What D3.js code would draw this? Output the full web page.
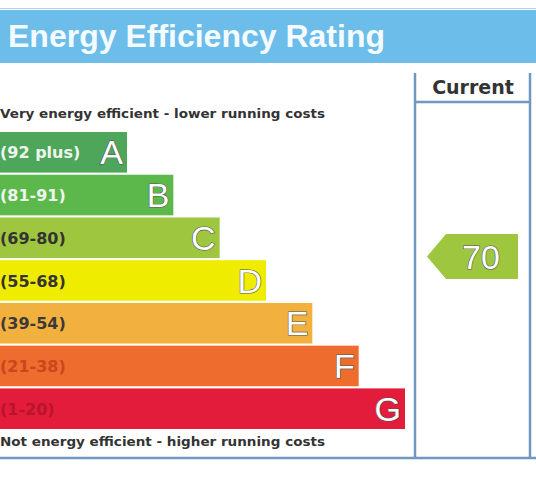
<!DOCTYPE html>
<html><head><meta charset="utf-8">
<script src="https://cdn.jsdelivr.net/npm/d3@7"></script>
<style>body{margin:0;background:#fff}svg{display:block}</style>
</head><body>
<script>
const bands = ["A","B","C","D","E","F","G"];
const ranges = ["(92 plus)","(81-91)","(69-80)","(55-68)","(39-54)","(21-38)","(1-20)"];
const bandMin = [92,81,69,55,39,21,1];
const bandColors = ["#4ea65a","#5db84b","#9ec73f","#f0ec00","#f2b13f","#ee6c2d","#e31c3b"];
const rangeColors = ["#eef5ee","#eef5ee","#333","#333","#3a3a3a","#c9471c","#b8142c"];
const currentValue = 70;
const title = "Energy Efficiency Rating";
const topNote = "Very energy efficient - lower running costs";
const bottomNote = "Not energy efficient - higher running costs";
const columnLabel = "Current";

const W = 536, H = 480;
const svg = d3.select("body").append("svg").attr("width", W).attr("height", H);
const font = "'Liberation Sans', Arial, sans-serif";
const font2 = "'DejaVu Sans', Verdana, sans-serif";

// title bar
svg.append("rect").attr("x",0).attr("y",10).attr("width",W).attr("height",53).attr("fill","#6cbde9");
svg.append("line").attr("x1",0).attr("x2",W).attr("y1",8.5).attr("y2",8.5).attr("stroke","#a9d6ef").attr("stroke-width",1);
svg.append("text").attr("x",8).attr("y",47).attr("font-family",font).attr("font-weight","bold")
  .attr("font-size",32).attr("fill","#f4fbff").text(title);

// frame lines
const frame = "#6f99bf";
svg.append("line").attr("x1",415).attr("x2",415).attr("y1",73).attr("y2",458).attr("stroke",frame).attr("stroke-width",2.5);
svg.append("line").attr("x1",530).attr("x2",530).attr("y1",73).attr("y2",458).attr("stroke",frame).attr("stroke-width",2.5);
svg.append("line").attr("x1",415).attr("x2",530).attr("y1",102).attr("y2",102).attr("stroke",frame).attr("stroke-width",2.5);
svg.append("line").attr("x1",0).attr("x2",W).attr("y1",458).attr("y2",458).attr("stroke",frame).attr("stroke-width",2.5);
svg.append("text").attr("x",473).attr("y",94).attr("text-anchor","middle").attr("font-family",font2)
  .attr("font-weight","bold").attr("font-size",19).attr("fill","#333").text(columnLabel);

// notes
svg.append("text").attr("x",0).attr("y",118).attr("font-family",font2).attr("font-weight","bold")
  .attr("font-size",12.5).attr("fill","#333").attr("textLength",325).attr("lengthAdjust","spacingAndGlyphs").text(topNote);
svg.append("text").attr("x",0).attr("y",446).attr("font-family",font2).attr("font-weight","bold")
  .attr("font-size",12.5).attr("fill","#333").attr("textLength",325).attr("lengthAdjust","spacingAndGlyphs").text(bottomNote);

// scales
const y = d3.scaleBand().domain(bands).range([132, 429]).paddingInner(0.05);
const x = d3.scaleLinear().domain([0, bands.length-1]).range([127, 405]);

const rows = svg.selectAll("g.row").data(bands).join("g").attr("class","row");
rows.append("rect").attr("x",0).attr("y",d=>y(d)).attr("height",y.bandwidth())
  .attr("width",(d,i)=>x(i)).attr("fill",(d,i)=>bandColors[i]);
rows.append("text").attr("x",0).attr("y",d=>y(d)+y.bandwidth()/2+6).attr("font-family",font2)
  .attr("font-weight","bold").attr("font-size",16).attr("fill",(d,i)=>rangeColors[i]).text((d,i)=>ranges[i]);
rows.append("text").attr("x",(d,i)=>x(i)-4).attr("y",d=>y(d)+y.bandwidth()/2+12).attr("text-anchor","end")
  .attr("font-family",font).attr("font-size",34).attr("fill","#fff").attr("stroke","#555").attr("stroke-width",1.2)
  .attr("paint-order","stroke").text(d=>d);

// current arrow positioned on a piecewise score scale
const edgesDomain = [1].concat(bandMin.slice().reverse().slice(1)).concat([100]);
const edgesRange = bands.slice().reverse().map(b=>y(b)+y.bandwidth()).concat([y("A")]);
const yScore = d3.scaleLinear().domain(edgesDomain).range(edgesRange);
const bandIdx = bandMin.findIndex(m=>currentValue>=m);
const cy = yScore(currentValue)+2, ah = 45, tipX = 427, bodyX = 446, endX = 518;
svg.append("path").attr("d",`M${tipX},${cy} L${bodyX},${cy-ah/2} L${endX},${cy-ah/2} L${endX},${cy+ah/2} L${bodyX},${cy+ah/2} Z`)
  .attr("fill",bandColors[bandIdx]);
svg.append("text").attr("x",481).attr("y",cy+12).attr("text-anchor","middle").attr("font-family",font)
  .attr("font-size",34).attr("fill","#fff").attr("stroke","#555").attr("stroke-width",1.2)
  .attr("paint-order","stroke").text(currentValue);
</script>
</body></html>
